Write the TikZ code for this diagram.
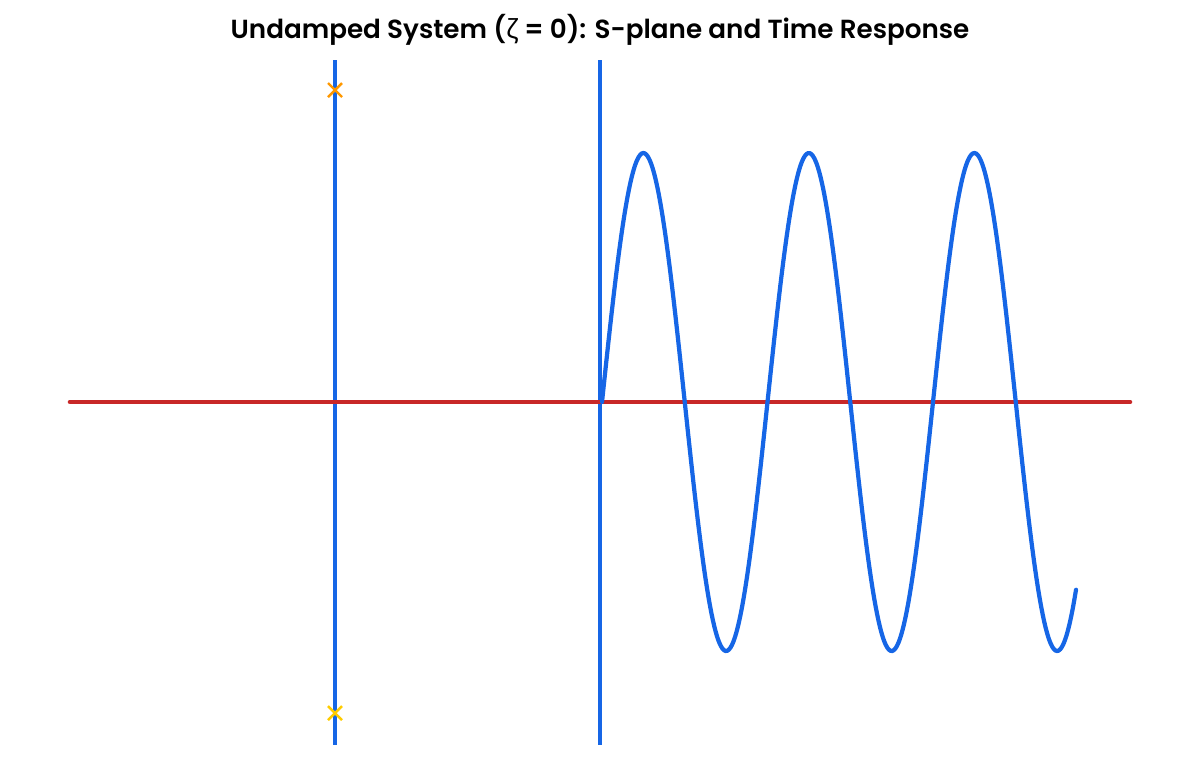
\documentclass[tikz,border=0pt]{standalone}
\usepackage{fontspec}
\setmainfont{Poppins}
\newfontfamily\titlefont{Poppins}[UprightFont={* SemiBold}]
\newfontfamily\greekfont{Noto Sans}
\definecolor{lineblue}{RGB}{22,102,230}
\definecolor{axisred}{RGB}{200,40,40}
\definecolor{poleorange}{RGB}{255,152,0}
\definecolor{poleyellow}{RGB}{255,204,0}

\begin{document}
\begin{tikzpicture}[x=0.01cm, y=-0.01cm,
        axis/.style = {line width=1.2pt, lineblue},
        pole/.style = {line width=0.7pt}]
            \useasboundingbox (0,0) rectangle (1200,763);

            \node[font=\titlefont\fontsize{7.45}{9}\selectfont] (title) at (600,30)
            {Undamped System ({\greekfont\bfseries ζ} = 0): S-plane and Time Response};

            % s-plane and time axes
            \draw [axis] (335,60) -- (335,745);
            \draw [axis] (600,60) -- (600,745);
            \draw [line width=1.3pt, axisred, line cap=round] (70,402) -- (1130,402);

            % time response
            \draw [axis, line cap=round, smooth, samples=300, domain=0:474]
            plot ({602+\x}, {402-249*sin(\x/165.5*360)});

            % poles
            \coordinate (p1) at (335,90);
            \coordinate (p2) at (335,713);
            \draw [pole, poleorange] ([shift={(-7,-7)}]p1) -- ([shift={(7,7)}]p1)
                ([shift={(-7,7)}]p1) -- ([shift={(7,-7)}]p1);
            \draw [pole, poleyellow] ([shift={(-7,-7)}]p2) -- ([shift={(7,7)}]p2)
                ([shift={(-7,7)}]p2) -- ([shift={(7,-7)}]p2);
        \end{tikzpicture}
\end{document}
